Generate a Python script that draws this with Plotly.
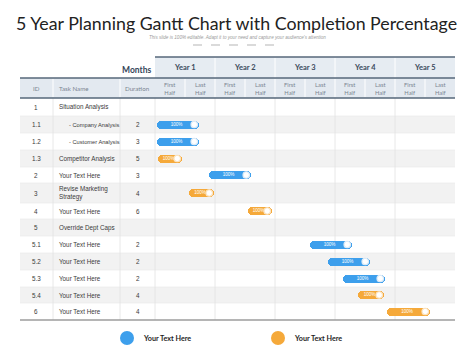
import plotly.graph_objects as go

W, H = 474, 355

# ---------------- data ----------------
task_ids = ["1", "1.1", "1.2", "1.3", "2", "3", "4", "5", "5.1", "5.2", "5.3", "5.4", "6"]
task_names = ["Situation Analysis", "- Company Analysis", "- Customer Analysis", "Competitor Analysis",
              "Your Text Here", "Revise Marketing<br>Strategy", "Your Text Here", "Override Dept Caps",
              "Your Text Here", "Your Text Here", "Your Text Here", "Your Text Here", "Your Text Here"]
task_indent = [0, 1, 1, 0, 0, 0, 0, 0, 0, 0, 0, 0, 0]
durations = ["", "2", "3", "5", "3", "4", "6", "", "2", "2", "2", "4", "4"]
# bar extents in months from start of Year 1
bar_start = [None, 0.4, 0.4, 0.6, 10.8, 6.8, 18.6, None, 31.0, 34.6, 37.6, 40.6, 46.4]
bar_end = [None, 8.8, 8.8, 5.4, 19.2, 11.8, 23.4, None, 39.4, 43.0, 46.0, 45.8, 55.0]
bar_group = ["", "A", "A", "B", "A", "B", "B", "", "A", "A", "A", "B", "B"]
completion = ["", "100%", "100%", "100%", "100%", "100%", "100%", "", "100%", "100%", "100%", "100%", "100%"]
years = ["Year 1", "Year 2", "Year 3", "Year 4", "Year 5"]
halves = ["First<br>Half", "Last<br>Half"]
legend_labels = ["Your Text Here", "Your Text Here"]

title = "5 Year Planning Gantt Chart with Completion Percentage"
subtitle = "This slide is 100% editable. Adapt it to your need and capture your audience's attention"

# ---------------- style ----------------
BLUE = "#3D9FEC"
ORANGE = "#F5A93A"
group_color = {"A": BLUE, "B": ORANGE}
row_heights = [18, 17, 17, 17, 16, 20, 16, 17, 17, 17, 17, 16, 17]
BODY_TOP = 98
X_LEFT, X_ID, X_TASK, X_DUR, X_TL, X_RIGHT = 20, 53, 120, 155, 155, 455
TL_MONTHS = 60
BODY_FONT = "Liberation Sans, Arial, sans-serif"
HEAD_FONT = "Lato, Open Sans, sans-serif"


def px(x):
    return x / W


def ann(x, y, text, font, anchor="center"):
    return dict(x=px(x), y=y, xref="paper", yref="y", text=text, showarrow=False,
                xanchor=anchor, yanchor="middle", align="left" if anchor == "left" else "center", font=font)


# row geometry
row_top = []
y = BODY_TOP
for h in row_heights:
    row_top.append(y)
    y += h
BODY_BOTTOM = y
row_center = [t + h / 2 for t, h in zip(row_top, row_heights)]

shapes = []
annotations = []

# title & subtitle
annotations.append(ann(236, 23, title, dict(family="Lato, sans-serif", size=17.8, color="#222222")))
annotations.append(ann(237, 37, "<i>" + subtitle + "</i>", dict(family=BODY_FONT, size=4.6, color="#9a9a9a")))
shapes.append(dict(type="line", xref="paper", yref="y", x0=px(193), x1=px(283), y0=45, y1=45,
                   line=dict(color="#b5b5b5", width=1, dash="dash")))

# header row 1 (years)
shapes.append(dict(type="rect", xref="paper", yref="y", x0=px(X_TL), x1=px(X_RIGHT), y0=57, y1=78,
                   fillcolor="#E6ECF2", line=dict(width=0), layer="below"))
shapes.append(dict(type="line", xref="paper", yref="y", x0=px(X_TL), x1=px(X_RIGHT), y0=57, y1=57,
                   line=dict(color="#56677A", width=1.5)))
year_w = (X_RIGHT - X_TL) / len(years)
for i, yr in enumerate(years):
    cx = X_TL + year_w * (i + 0.5)
    annotations.append(ann(cx, 67.5, "<b>" + yr + "</b>", dict(family=HEAD_FONT, size=7.5, color="#3A4A5C")))
    if i > 0:
        shapes.append(dict(type="line", xref="paper", yref="y", x0=px(X_TL + year_w * i), x1=px(X_TL + year_w * i),
                           y0=58, y1=78, line=dict(color="#ffffff", width=1)))
annotations.append(ann(136.5, 70, "<b>Months</b>", dict(family=HEAD_FONT, size=8.5, color="#34465A")))

# header row 2
shapes.append(dict(type="rect", xref="paper", yref="y", x0=px(X_LEFT), x1=px(X_RIGHT), y0=78, y1=98,
                   fillcolor="#E3E9F0", line=dict(width=0), layer="below"))
for yy in (78, 98):
    shapes.append(dict(type="line", xref="paper", yref="y", x0=px(X_LEFT), x1=px(X_RIGHT), y0=yy, y1=yy,
                       line=dict(color="#56677A", width=1.3)))
HEAD2 = dict(family=HEAD_FONT, size=6.2, color="#7A8590")
annotations.append(ann(36, 88, "ID", HEAD2))
annotations.append(ann(57, 88, "Task Name", HEAD2, "left"))
annotations.append(ann(137.5, 88, "Duration", HEAD2))
half_w = year_w / 2
for i in range(len(years) * 2):
    cx = X_TL + half_w * (i + 0.5)
    annotations.append(ann(cx, 88, halves[i % 2], dict(family=HEAD_FONT, size=5.8, color="#7A8590")))
for xx in [X_ID, X_TASK] + [X_TL + half_w * i for i in range(1, 10)]:
    shapes.append(dict(type="line", xref="paper", yref="y", x0=px(xx), x1=px(xx), y0=79, y1=97,
                       line=dict(color="#ffffff", width=1)))

# body rows
for i, (t, h) in enumerate(zip(row_top, row_heights)):
    if i % 2 == 1:
        shapes.append(dict(type="rect", xref="paper", yref="y", x0=px(X_LEFT), x1=px(X_RIGHT), y0=t, y1=t + h,
                           fillcolor="#F2F2F2", line=dict(width=0), layer="below"))
    if i > 0:
        shapes.append(dict(type="line", xref="paper", yref="y", x0=px(X_LEFT), x1=px(X_RIGHT), y0=t, y1=t,
                           line=dict(color="#E8E8E8", width=0.6), layer="below"))
for xx in [X_ID, X_TASK, X_DUR] + [X_TL + year_w * i for i in range(1, 5)]:
    shapes.append(dict(type="line", xref="paper", yref="y", x0=px(xx), x1=px(xx), y0=BODY_TOP, y1=BODY_BOTTOM,
                       line=dict(color="#E2E2E2", width=0.8), layer="below"))
shapes.append(dict(type="line", xref="paper", yref="y", x0=px(X_LEFT), x1=px(X_RIGHT), y0=BODY_BOTTOM,
                   y1=BODY_BOTTOM, line=dict(color="#9C9C9C", width=1.5)))

BODY = dict(family=BODY_FONT, size=6.3, color="#3A3A3A")
SUB = dict(family=BODY_FONT, size=5.7, color="#3A3A3A")
for i, cy in enumerate(row_center):
    annotations.append(ann(36, cy, task_ids[i], BODY))
    annotations.append(ann(57 + 10 * task_indent[i], cy, task_names[i], SUB if task_indent[i] else BODY, "left"))
    if durations[i]:
        annotations.append(ann(137.5, cy, durations[i], BODY))

# ---------------- bars ----------------
fig = go.Figure()
for g in ["A", "B"]:
    idx = [i for i in range(len(task_ids)) if bar_group[i] == g]
    fig.add_trace(go.Bar(
        orientation="h",
        y=[row_center[i] for i in idx],
        base=[bar_start[i] for i in idx],
        x=[bar_end[i] - bar_start[i] for i in idx],
        width=8,
        marker=dict(color=group_color[g], line=dict(width=0), cornerradius=4),
        hoverinfo="skip", showlegend=False,
    ))
    fig.add_trace(go.Scatter(
        x=[(bar_start[i] + bar_end[i]) / 2 - 0.3 for i in idx],
        y=[row_center[i] for i in idx],
        mode="text", text=[completion[i] for i in idx],
        textfont=dict(family=BODY_FONT, size=4.6, color="#ffffff"),
        hoverinfo="skip", showlegend=False,
    ))
    fig.add_trace(go.Scatter(
        x=[bar_end[i] - 0.95 for i in idx],
        y=[row_center[i] for i in idx],
        mode="markers",
        marker=dict(size=6.5, color="#ffffff", line=dict(color="#DDEBF7" if g == "A" else "#FBE3C0", width=1.2)),
        hoverinfo="skip", showlegend=False,
    ))

# legend (drawn)
legend_x = [127, 278]
for lx, lab, g in zip(legend_x, legend_labels, ["A", "B"]):
    shapes.append(dict(type="circle", xref="paper", yref="y", x0=px(lx - 7), x1=px(lx + 7), y0=331, y1=345,
                       fillcolor=group_color[g], line=dict(width=0)))
    annotations.append(ann(lx + 14, 338, "<b>" + lab + "</b>", dict(family=HEAD_FONT, size=7.2, color="#1e1e1e"),
                           "left"))

fig.update_layout(
    width=W, height=H, margin=dict(l=0, r=0, t=0, b=0),
    paper_bgcolor="#ffffff", plot_bgcolor="rgba(0,0,0,0)",
    barmode="overlay", bargap=0,
    xaxis=dict(domain=[X_TL / W, X_RIGHT / W], range=[0, TL_MONTHS], visible=False, fixedrange=True),
    yaxis=dict(domain=[0, 1], range=[H, 0], visible=False, fixedrange=True),
    shapes=shapes, annotations=annotations,
)
fig.write_html("out.html", config={"displayModeBar": False},
               post_script="document.body.style.margin='0';document.body.style.overflow='hidden';")
